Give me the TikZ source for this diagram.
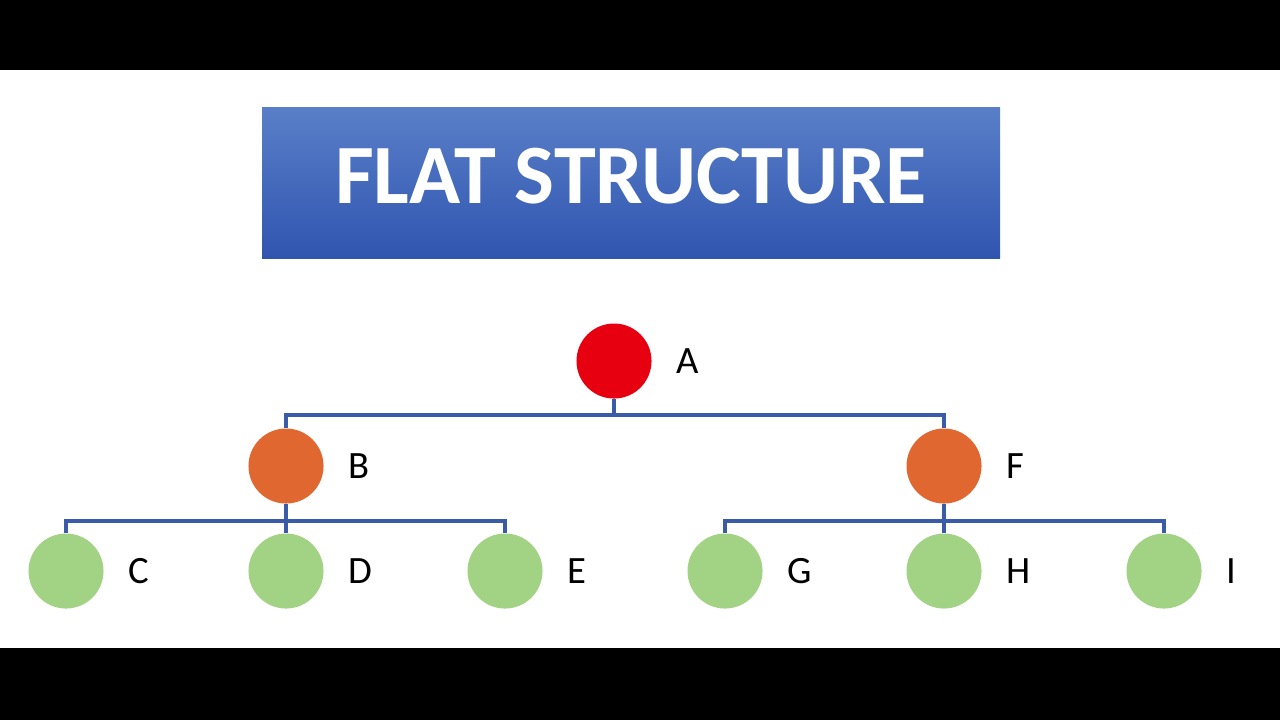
\documentclass[tikz,border=0pt]{standalone}
\usepackage{fontspec}
\setmainfont{Carlito}
\definecolor{tb}{HTML}{5A7FC8}
\definecolor{bb}{HTML}{2F55B0}
\definecolor{ln}{HTML}{3A5CA8}
\definecolor{rd}{HTML}{E60010}
\definecolor{og}{HTML}{E06830}
\definecolor{gn}{HTML}{A2D283}
\tikzset{x=0.01cm,y=-0.01cm,
 nd/.style={circle,minimum size=0.75cm,inner sep=0pt},
 lbl/.style={font=\fontsize{11}{13}\selectfont,anchor=west},
 conn/.style={draw=ln,line width=0.9pt}}
\begin{document}
\begin{tikzpicture}
\fill[black] (0,0) rectangle (1280,720);
\fill[white] (0,70) rectangle (1280,648);
\shade[top color=tb,bottom color=bb] (262,107) rectangle (1000,258);
\node[text=white,font=\fontsize{24}{28}\selectfont\bfseries] (t) at (631,176) {FLAT STRUCTURE};
\node[nd,fill=rd] (A) at (614,361) {};
\node[nd,fill=og] (B) at (286,466) {};
\node[nd,fill=og] (F) at (944,466) {};
\foreach \n/\x in {C/66,D/286,E/505,G/725,H/944,I/1164}
  \node[nd,fill=gn] (\n) at (\x,571) {};
\foreach \n in {A,B,F,C,D,E,G,H,I}
  \node[lbl] (l\n) at ([xshift=0.5cm]\n.center) {\n};
\draw[conn] (A.south) |- (B.north |- 0,415) -- (B.north);
\draw[conn] (A.south |- 0,415) -| (F.north);
\draw[conn] (B.south) -- (B.south |- 0,521);
\draw[conn] (C.north) |- (E.north |- 0,521) -- (E.north);
\draw[conn] (D.north) -- (D.north |- 0,521);
\draw[conn] (F.south) -- (F.south |- 0,521);
\draw[conn] (G.north) |- (I.north |- 0,521) -- (I.north);
\draw[conn] (H.north) -- (H.north |- 0,521);
\end{tikzpicture}
\end{document}
